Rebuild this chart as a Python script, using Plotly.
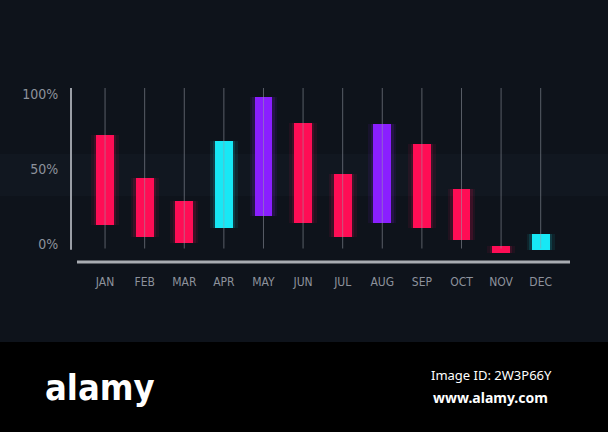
import plotly.graph_objects as go

months = ["JAN", "FEB", "MAR", "APR", "MAY", "JUN", "JUL", "AUG", "SEP", "OCT", "NOV", "DEC"]
bar_high = [73, 44, 29, 69, 98, 81, 47, 80, 67, 37, -1, 7]
bar_low = [13, 5, 1, 11, 19, 14, 5, 14, 11, 3, -6, -4]
wick_high = [105, 105, 105, 105, 105, 105, 105, 105, 105, 105, 105, 105]
wick_low = [-3, -3, -3, -3, -3, -3, -3, -3, -3, -3, -3, -3]
bar_group = ["red", "red", "red", "cyan", "purple", "red", "red", "purple", "red", "red", "red", "cyan"]
y_ticks = [0, 50, 100]
y_tick_labels = ["0%", "50%", "100%"]

palette = {"red": "#ff0d55", "cyan": "#17e8f5", "purple": "#8a1fff"}
colors = [palette[g] for g in bar_group]


def rgba(hex_color, a):
    h = hex_color.lstrip("#")
    return "rgba(%d,%d,%d,%.2f)" % (int(h[0:2], 16), int(h[2:4], 16), int(h[4:6], 16), a)


heights = [h - l for h, l in zip(bar_high, bar_low)]

# wicks
wx, wy = [], []
for m, hi, lo in zip(months, wick_high, wick_low):
    wx += [m, m, None]
    wy += [hi, lo, None]

fig = go.Figure()
fig.add_trace(go.Scatter(x=wx, y=wy, mode="lines",
                         line=dict(color="rgba(150,155,165,0.55)", width=1),
                         hoverinfo="skip", showlegend=False))
# glow
for w, a in [(0.7, 0.08), (0.57, 0.13)]:
    fig.add_trace(go.Bar(x=months, y=heights, base=bar_low, width=w,
                         marker=dict(color=[rgba(c, a) for c in colors], line=dict(width=0)),
                         hoverinfo="skip", showlegend=False))
fig.add_trace(go.Bar(x=months, y=heights, base=bar_low, width=0.45,
                     marker=dict(color=colors, line=dict(width=0)),
                     showlegend=False))

cond = "Liberation Sans Narrow, DejaVu Sans Condensed, Roboto, sans-serif"
label_font = dict(family=cond, size=14, color="#8d929c")

fig.update_layout(
    width=608, height=432,
    margin=dict(l=71, r=38, t=88, b=170),
    paper_bgcolor="#000000",
    plot_bgcolor="rgba(0,0,0,0)",
    barmode="overlay",
    bargap=0,
    xaxis=dict(type="category", range=[-0.86, 11.74], showgrid=False, zeroline=False,
               showline=False, ticks="outside", ticklen=9, tickcolor="rgba(0,0,0,0)",
               tickfont=dict(family=cond, size=12, color="#8d929c"),
               fixedrange=True),
    yaxis=dict(range=[-12, 104], tickvals=y_ticks, ticktext=y_tick_labels,
               showgrid=False, zeroline=False, showline=False,
               ticks="outside", ticklen=9, tickcolor="rgba(0,0,0,0)",
               tickfont=label_font, fixedrange=True),
    shapes=[
        # dark chart background
        dict(type="rect", xref="paper", yref="paper", x0=-0.2, x1=1.1, y0=-0.46, y1=1.6,
             fillcolor="#0e131b", line=dict(width=0), layer="below"),
        # subtle horizontal haze
        dict(type="rect", xref="paper", yref="paper", x0=-0.2, x1=1.1, y0=0.38, y1=0.62,
             fillcolor="rgba(40,60,70,0.12)", line=dict(width=0), layer="below"),
        # y axis line
        dict(type="line", xref="paper", yref="paper", x0=0, x1=0, y0=0.07, y1=1.0,
             line=dict(color="#9a9ea6", width=2)),
        # x axis line
        dict(type="line", xref="paper", yref="paper", x0=0.012, x1=1.0, y0=0, y1=0,
             line=dict(color="#a8acb2", width=3)),
    ],
    annotations=[
        dict(text="<b>alamy</b>", xref="paper", yref="paper", x=0.058, y=-0.72,
             xanchor="center", yanchor="middle", showarrow=False,
             font=dict(family=cond, size=36, color="#ffffff")),
        dict(text="Image ID: 2W3P66Y", xref="paper", yref="paper", x=0.843, y=-0.65,
             xanchor="center", yanchor="middle", showarrow=False,
             font=dict(family="Noto Sans, DejaVu Sans, sans-serif", size=13, color="#ffffff")),
        dict(text="<b>www.alamy.com</b>", xref="paper", yref="paper", x=0.84, y=-0.78,
             xanchor="center", yanchor="middle", showarrow=False,
             font=dict(family="Noto Sans, DejaVu Sans, sans-serif", size=14, color="#ffffff")),
    ],
)

fig.write_html("out.html", config={"displayModeBar": False},
               post_script="document.body.style.margin='0';document.body.style.background='#000';")
